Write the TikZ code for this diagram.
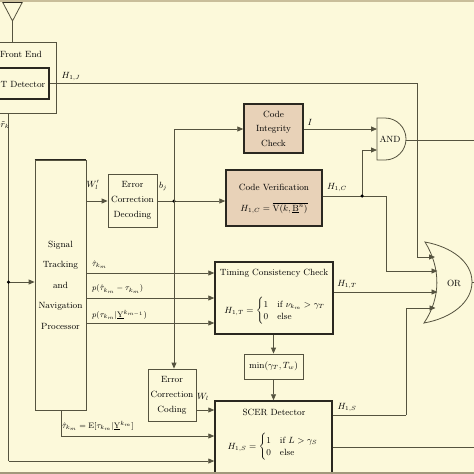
\documentclass[tikz,border=0pt]{standalone}
\usepackage{amsmath}
\usetikzlibrary{arrows.meta,calc}
\definecolor{bg}{HTML}{FCF9DA}
\definecolor{lc}{HTML}{55533F}
\definecolor{dk}{HTML}{2A2820}
\definecolor{tan}{HTML}{E8D2B8}
\definecolor{band}{HTML}{C9BE9A}
\tikzset{
  ln/.style={draw=lc, line width=0.8pt},
  arr/.style={ln, -{Triangle[length=6pt,width=5pt]}},
  thinbox/.style={draw=lc, line width=0.8pt, inner sep=0pt, align=center, font=\fontsize{9}{15}\selectfont},
  thickbox/.style={draw=dk, line width=1.5pt, inner sep=0pt, align=center, font=\fontsize{9}{14.5}\selectfont},
  lbl/.style={inner sep=0pt, font=\fontsize{9}{10}\selectfont},
  slbl/.style={inner sep=0pt, font=\fontsize{8.5}{9}\selectfont},
  dot/.style={circle, fill=black, inner sep=0pt, minimum size=3.5pt},
}
\begin{document}
\begin{tikzpicture}[x=1pt,y=-1pt]
\useasboundingbox (0,0) rectangle (474,474);
\fill[bg] (0,0) rectangle (474,474);

% antenna
\draw[ln, fill=bg] (2,1) -- (23,1) -- (12.5,21) -- cycle;
\fill[dk] (3,0) rectangle (22,2.5);
\coordinate (ant) at (12.5,21);

% front end
\node[thinbox, minimum width=90pt, minimum height=71pt] (fe) at (11,77.5) {};
\node[lbl, anchor=east] at (42,54) {Front End};
\node[draw=dk, line width=1.3pt, minimum width=84pt, minimum height=31pt, inner sep=0pt] (det) at (7,83.5) {};
\node[lbl, anchor=west] at (0.5,84.5) {T Detector};
\draw[ln] (ant) -- (ant |- fe.north);

% boxes
\node[thickbox, fill=tan, minimum width=59pt, minimum height=49pt] (cic) at (273.5,128.5) {Code\\Integrity\\Check};
\node[thickbox, fill=tan, minimum width=96pt, minimum height=56pt] (cv) at (274,198) {};
\node[lbl] at (274,187) {Code Verification};
\node[lbl] at (274,208) {$H_{1,C}=\overline{\mathrm{V}(k,\underline{\mathrm{B}}^{n})}$};
\node[thinbox, minimum width=49pt, minimum height=53pt] (ecd) at (132.5,200.5) {Error\\Correction\\Decoding};
\node[thinbox, minimum width=51pt, minimum height=250pt, font=\fontsize{9}{20.5}\selectfont] (sig) at (60.5,285) {Signal\\Tracking\\and\\Navigation\\Processor};
\draw[dk, line width=1.3pt] (sig.north west) -- (sig.north east);
\node[thickbox, minimum width=118pt, minimum height=72pt] (tc) at (274,298) {};
\node[lbl] at (274,273) {Timing Consistency Check};
\node[lbl] at (275,311) {$H_{1,T}=\begin{cases}1 & \text{if } \nu_{k_m}>\gamma_T\\ 0 & \text{else}\end{cases}$};
\node[thinbox, minimum width=59pt, minimum height=25pt] (mn) at (273.5,366.5) {$\min(\gamma_T,T_w)$};
\node[thinbox, minimum width=48pt, minimum height=52pt] (ecc) at (172,395) {Error\\Correction\\Coding};
\node[thickbox, minimum width=117pt, minimum height=90pt] (sc) at (273.5,446) {};
\node[lbl] at (274,412) {SCER Detector};
\node[lbl] at (273,447) {$H_{1,S}=\begin{cases}1 & \text{if } L>\gamma_S\\ 0 & \text{else}\end{cases}$};

% AND gate
\draw[ln, fill=bg] (377,118) -- (385,118) arc (-90:90:21) -- (377,160) -- cycle;
\node[lbl] (andg) at (390,139.5) {AND};
\coordinate (andA) at (377,129);
\coordinate (andB) at (377,150);
\coordinate (andO) at (406,140);

% OR gate
\draw[ln, fill=bg] (425,242) .. controls (452,247) and (472,262) .. (472,282)
   .. controls (472,302) and (452,318) .. (424,323)
   .. controls (441,298) and (441,268) .. (425,242) -- cycle;
\node[lbl] (org) at (454,283) {OR};
\coordinate (or1) at (435,257);
\coordinate (or2) at (437.5,271);
\coordinate (or3) at (437.5,292);
\coordinate (or4) at (435.5,308);
\coordinate (orO) at (472,282);

% helper levels
\coordinate (y129) at (0,129);
\coordinate (y201) at (0,201);
\coordinate (y273) at (0,273);
\coordinate (y298) at (0,298);
\coordinate (y323) at (0,323);
\coordinate (y282) at (0,282);
\coordinate (y410) at (0,410);
\coordinate (y415) at (0,415);
\coordinate (y436) at (0,436);
\coordinate (y447) at (0,447);
\coordinate (y461) at (0,461);
\coordinate (y83) at (0,83);
\coordinate (y292) at (0,292);
\coordinate (y196) at (0,196);

\coordinate (jx) at (417,83);
\coordinate (splitB) at (174,201);
\coordinate (splitC) at (362,196);
\coordinate (cx) at (386,196);
\coordinate (sx) at (406,415);
\coordinate (lft) at (8.5,113);
\coordinate (lsplit) at (8.5,282);
\coordinate (sigb) at (61,410);
\coordinate (eR) at (474,140);
\coordinate (eR2) at (474,447);
\coordinate (eR3) at (476,282);

% connectors
\draw[ln] (det.east |- y83) -- (jx);
\draw[arr] (jx) |- (or1);
\node[lbl] at (71,76.5) {$H_{1,J}$};

\draw[ln] (lft) -- (lft |- y461);
\draw[arr] (lft |- y461) -- (sc.west |- y461);
\draw[arr] (lsplit) -- (sig.west |- y282);
\node[dot] at (lsplit) {};
\node[lbl, anchor=west] at (0.5,125) {$\tilde r_k$};

\draw[arr] (sig.east |- y201) -- (ecd.west |- y201);
\node[lbl] at (93,185) {$W_l'$};
\draw[ln] (ecd.east |- y201) -- (splitB);
\node[lbl] at (163,186) {$b_j$};
\draw[arr] (splitB) -- (cv.west |- y201);
\node[dot] at (splitB) {};
\draw[arr] (splitB |- y129) -- (cic.west |- y129);
\draw[arr] (splitB |- y129) -- (splitB |- ecc.north);

\draw[arr] (cic.east |- y129) -- (andA);
\node[lbl] at (310,122) {$I$};
\draw[ln] (cv.east |- y196) -- (cx);
\draw[arr] (splitC) |- (andB);
\node[dot] at (splitC) {};
\draw[arr] (cx) |- (or2);
\node[lbl] at (337,188) {$H_{1,C}$};
\draw[ln] (andO) -- (eR);

\draw[arr] (sig.east |- y273) -- (tc.west |- y273);
\draw[arr] (sig.east |- y298) -- (tc.west |- y298);
\draw[arr] (sig.east |- y323) -- (tc.west |- y323);
\node[slbl, anchor=west] at (92,264.5) {$\hat\tau_{k_m}$};
\node[slbl, anchor=west] at (92,289) {$p(\hat\tau_{k_m}-\tau_{k_m})$};
\node[slbl, anchor=west] at (92,315) {$p(\tau_{k_m}|\underline{\mathrm{Y}}^{k_{m-1}})$};

\draw[arr] (tc.east |- y292) -- (or3);
\node[lbl] at (347,285) {$H_{1,T}$};
\draw[arr] (tc.south -| mn.north) -- (mn.north);
\draw[arr] (mn.south) -- (mn.south |- sc.north);

\draw[arr] (ecc.east |- y410) -- (sc.west |- y410);
\node[lbl] at (203,397) {$W_l$};
\draw[ln] (sigb) -- (sigb |- y436);
\draw[arr] (sigb |- y436) -- (sc.west |- y436);
\node[slbl, anchor=west] at (62,426) {$\hat\tau_{k_m}=\mathrm{E}[\tau_{k_m}|\underline{\mathrm{Y}}^{k_m}]$};

\draw[ln] (sc.east |- y415) -- (sx);
\draw[arr] (sx) |- (or4);
\node[lbl] at (347,408) {$H_{1,S}$};
\draw[ln] (sc.east |- y447) -- (eR2);
\draw[ln] (orO) -- (eR3);

% bands
\fill[band] (0,0) rectangle (474,2);
\fill[band!80!black] (0,472) rectangle (474,474);
\end{tikzpicture}
\end{document}
